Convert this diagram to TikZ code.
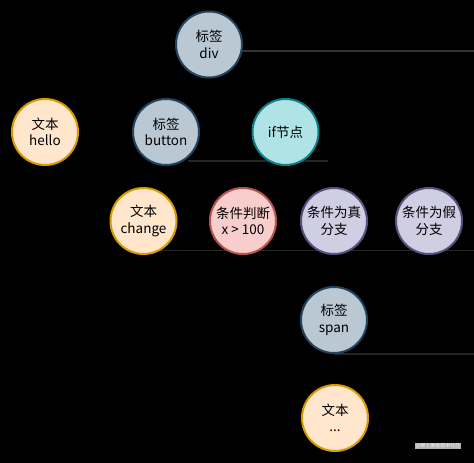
\documentclass[tikz,border=0pt]{standalone}
\usepackage{fontspec}
\usetikzlibrary{backgrounds}
\setmainfont{Noto Sans CJK SC}
\definecolor{tagfill}{HTML}{BAC8D3}
\definecolor{tagline}{HTML}{23445D}
\definecolor{textfill}{HTML}{FFE6CC}
\definecolor{textline}{HTML}{D79B00}
\definecolor{iffill}{HTML}{B0E3E6}
\definecolor{ifline}{HTML}{0E8088}
\definecolor{condfill}{HTML}{F8CECC}
\definecolor{condline}{HTML}{B85450}
\definecolor{branchfill}{HTML}{D0CEE2}
\definecolor{branchline}{HTML}{56517E}
\begin{document}
\begin{tikzpicture}[x=1pt,y=-1pt,
	knot/.style={circle,draw,line width=2pt,minimum size=66pt,inner sep=0pt,align=center,
		font=\fontsize{13.5}{16.5}\selectfont},
	tag/.style={knot,fill=tagfill,draw=tagline},
	txt/.style={knot,fill=textfill,draw=textline},
	ifknot/.style={knot,fill=iffill,draw=ifline},
	cond/.style={knot,fill=condfill,draw=condline},
	branch/.style={knot,fill=branchfill,draw=branchline},
	ghost/.style={line width=1.5pt,draw=black!80}]
	\useasboundingbox (0,0) rectangle (474,463);
	\coordinate (e1) at (474,0);
	\coordinate (b1) at (328,161);
	\node[tag] (div) at (209,44.5) {标签\\div};
	\node[txt] (hello) at (45,132) {文本\\hello};
	\node[tag] (button) at (166,132) {标签\\button};
	\node[ifknot] (ifnode) at (285.5,132) {if节点};
	\node[txt] (change) at (143.5,221) {文本\\change};
	\node[cond] (judge) at (243,221) {条件判断\\x > 100};
	\node[branch] (yes) at (334,221) {条件为真\\分支};
	\node[branch] (no) at (429,221) {条件为假\\分支};
	\node[tag] (span) at (334,320) {标签\\span};
	\node[txt] (dots) at (335,418) {文本\\...};
	\node[font=\fontsize{5}{5}\selectfont,fill=gray!60,text=gray!10,inner sep=0.8pt] (mark) at (438,446) {@稀土掘金技术社区};
	\begin{pgfonlayer}{background}
	\fill[black] (0,0) rectangle (474,463);
	\draw[ghost] (div.-11) -- (div.-11 -| e1);
	\draw[ghost,draw=black!85] (button.-50 |- b1) -- (b1);
	\draw[ghost,draw=black!85] (change.-60) -- (change.-60 -| e1);
	\draw[ghost,draw=black!85] (span.south) -- (span.south -| e1);
	\end{pgfonlayer}
\end{tikzpicture}
\end{document}
